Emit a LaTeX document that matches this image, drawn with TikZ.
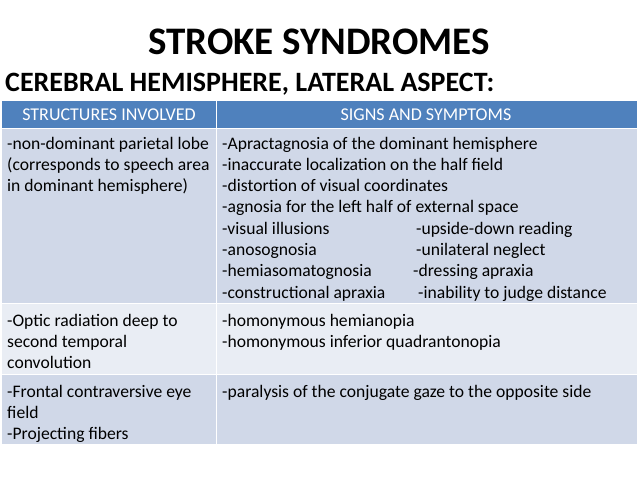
\documentclass[tikz,border=0pt]{standalone}
\usepackage{fontspec}
\setmainfont{Carlito}
\definecolor{hdr}{HTML}{4F81BD}
\definecolor{rowa}{HTML}{D0D8E8}
\definecolor{rowb}{HTML}{E9EDF4}
\begin{document}
\begin{tikzpicture}[x=1pt,y=-1pt,
  txt/.style={anchor=base west,inner sep=0pt,font=\fontsize{17.6}{20}\selectfont},
  hd/.style={anchor=center,inner sep=0pt,text=white,font=\fontsize{18}{20}\selectfont},
  cell/.style={draw=white,line width=1pt}]
\useasboundingbox (0,0) rectangle (638,479);
\node[font=\fontsize{39}{42}\bfseries\selectfont,inner sep=0pt] (title) at (319,42) {STROKE SYNDROMES};
\node[font=\fontsize{28}{30}\bfseries\selectfont,anchor=west,inner sep=0pt] (sub) at (5,84) {CEREBRAL HEMISPHERE, LATERAL ASPECT:};
\fill[hdr] (2,101) rectangle (637,128);
\fill[rowa] (2,128) rectangle (637,303);
\fill[rowb] (2,303) rectangle (637,374);
\fill[rowa] (2,374) rectangle (637,444);
\draw[cell] (2,128) -- (637,128) (2,303) -- (637,303) (2,374) -- (637,374) (216,101) -- (216,444);
\node[hd] (h1) at (109,115) {STRUCTURES INVOLVED};
\node[hd] (h2) at (426,115) {SIGNS AND SYMPTOMS};
\foreach \t [count=\i] in {{-non-dominant parietal lobe},{(corresponds to speech area},{in dominant hemisphere)}}
  \node[txt] at (7,149+21*\i-21) {\t};
\foreach \t [count=\i] in {{-Apractagnosia of the dominant hemisphere},{-inaccurate localization on the half field},{-distortion of visual coordinates},{-agnosia for the left half of external space},{-visual illusions},{-anosognosia},{-hemiasomatognosia},{-constructional apraxia}}
  \node[txt] at (222,149+21.3*\i-21.3) {\t};
\node[txt] at (416,234) {-upside-down reading};
\node[txt] at (416,255.3) {-unilateral neglect};
\node[txt] at (413,276.6) {-dressing apraxia};
\node[txt] at (418,298) {-inability to judge distance};
\node[txt] at (7,326) {-Optic radiation deep to};
\node[txt] at (7,347) {second temporal};
\node[txt] at (7,368) {convolution};
\node[txt] at (222,326) {-homonymous hemianopia};
\node[txt] at (222,347) {-homonymous inferior quadrantonopia};
\node[txt] at (7,397) {-Frontal contraversive eye};
\node[txt] at (7,418) {field};
\node[txt] at (7,439) {-Projecting fibers};
\node[txt] at (222,397) {-paralysis of the conjugate gaze to the opposite side};
\end{tikzpicture}
\end{document}
